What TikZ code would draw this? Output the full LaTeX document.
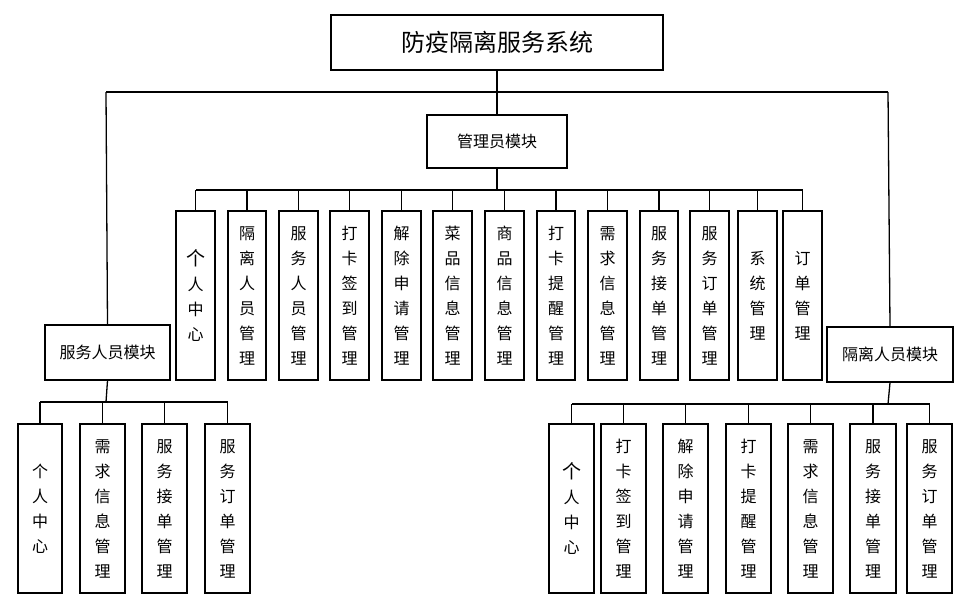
\documentclass[tikz,border=0pt]{standalone}
\usepackage{fontspec}
\newfontfamily\cjk{Noto Sans CJK SC}
\begin{document}
\begin{tikzpicture}[x=1pt,y=-1pt,
  box/.style={draw=black,line width=1.3pt,inner sep=0pt,font=\cjk\fontsize{16}{25}\selectfont,align=center},
  ln/.style={draw=black,line width=1.3pt}]
\useasboundingbox (0,0) rectangle (965,608);
\newcommand\bx[6]{\node[box,minimum width=#4-#2,minimum height=#5-#3] (#1) at ({(#2+#4)/2},{(#3+#5)/2}) {#6};}
\bx{top}{331}{15}{663}{70}{\fontsize{24}{28}\selectfont 防疫隔离服务系统}
\bx{adm}{427}{115}{567}{168}{管理员模块}
\bx{srv}{45}{325}{170}{380}{服务人员模块}
\bx{qua}{827}{327}{953}{382}{隔离人员模块}
\coordinate (j1) at (497,92);
\draw[ln] (top.south) -- (j1) -- (adm.north);
\draw[ln] (106,92) -- (888,92);
\draw[ln] (106,92) -- (srv.north);
\draw[ln] (888,92) -- (qua.north);
% admin children
\draw[ln] (adm.south) -- (497,190);
\draw[ln] (196,190) -- (803,190);
\foreach \n/\a/\b/\t in {a1/176/215/{\fontsize{19}{28}\selectfont 个\\人\\中\\心},a2/228/266/隔\\离\\人\\员\\管\\理,a3/279/318/服\\务\\人\\员\\管\\理,a4/330/369/打\\卡\\签\\到\\管\\理,a5/382/421/解\\除\\申\\请\\管\\理,a6/433/472/菜\\品\\信\\息\\管\\理,a7/485/524/商\\品\\信\\息\\管\\理,a8/537/575/打\\卡\\提\\醒\\管\\理,a9/588/627/需\\求\\信\\息\\管\\理,a10/640/678/服\\务\\接\\单\\管\\理,a11/690/729/服\\务\\订\\单\\管\\理,a12/738/777/系\\统\\管\\理,a13/783/822/订\\单\\管\\理}{
  \bx{\n}{\a}{211}{\b}{380}{\t}
  \draw[ln] ({(\a+\b)/2},190) -- (\n.north);
}
% service children
\draw[ln] (srv.south) -- (106,402);
\draw[ln] (40,402) -- (228,402);
\foreach \n/\a/\b/\t in {s1/18/62/个\\人\\中\\心,s2/80/125/需\\求\\信\\息\\管\\理,s3/142/187/服\\务\\接\\单\\管\\理,s4/205/250/服\\务\\订\\单\\管\\理}{
  \bx{\n}{\a}{424}{\b}{593}{\t}
  \draw[ln] ({(\a+\b)/2},402) -- (\n.north);
}
% quarantine children
\draw[ln] (qua.south) -- (888,404);
\draw[ln] (572,404) -- (930,404);
\foreach \n/\a/\b/\t in {q1/549/594/{\fontsize{19}{28}\selectfont 个\\人\\中\\心},q2/601/646/打\\卡\\签\\到\\管\\理,q3/663/708/解\\除\\申\\请\\管\\理,q4/726/771/打\\卡\\提\\醒\\管\\理,q5/788/833/需\\求\\信\\息\\管\\理,q6/850/896/服\\务\\接\\单\\管\\理,q7/907/952/服\\务\\订\\单\\管\\理}{
  \bx{\n}{\a}{424}{\b}{593}{\t}
  \draw[ln] ({(\a+\b)/2},404) -- (\n.north);
}
\end{tikzpicture}
\end{document}
